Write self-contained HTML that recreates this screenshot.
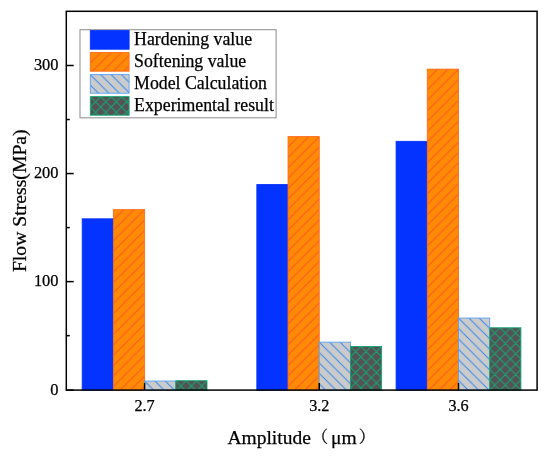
<!DOCTYPE html>
<html><head><meta charset="utf-8"><title>Flow Stress vs Amplitude</title>
<style>
html,body{margin:0;padding:0;background:#fff;}
svg{display:block;}
text{font-family:"Liberation Serif","Noto Serif CJK SC",serif;fill:#000;stroke:#000;stroke-width:0.25px;}
</style></head><body>
<svg width="550" height="456" viewBox="0 0 550 456">
<defs>
<pattern id="po" patternUnits="userSpaceOnUse" width="10.4" height="10.4" x="0" y="0">
<rect width="10.4" height="10.4" fill="#ff8a06"/>
<path d="M-1,11.4 L11.4,-1 M-1,1 L1,-1 M9.4,11.4 L11.4,9.4" stroke="#ff5520" stroke-width="1" fill="none"/>
</pattern>
<pattern id="pg" patternUnits="userSpaceOnUse" width="10.4" height="10.4" x="0" y="0">
<rect width="10.4" height="10.4" fill="#cbcbcb"/>
<path d="M-1,-1 L11.4,11.4 M9.4,-1 L11.4,1 M-1,9.4 L1,11.4" stroke="#3488ee" stroke-width="1" fill="none"/>
</pattern>
<pattern id="pd" patternUnits="userSpaceOnUse" width="10.4" height="10.4" x="0" y="0">
<rect width="10.4" height="10.4" fill="#545254"/>
<path d="M-1,-1 L11.4,11.4 M9.4,-1 L11.4,1 M-1,9.4 L1,11.4 M-1,11.4 L11.4,-1 M-1,1 L1,-1 M9.4,11.4 L11.4,9.4" stroke="#14a572" stroke-width="1.05" fill="none"/>
</pattern>
</defs>
<rect width="550" height="456" fill="#fff"/>

<g transform="translate(82.20,218.84)"><rect x="0" y="0" width="31.20" height="171.26" fill="#0433ff" stroke="#0433ff" stroke-width="0.9"/></g>
<g transform="translate(113.40,209.66)"><rect x="0" y="0" width="31.20" height="180.44" fill="url(#po)" stroke="#ff6a1a" stroke-width="0.9"/></g>
<g transform="translate(144.60,381.05)"><rect x="0" y="0" width="31.20" height="9.05" fill="url(#pg)" stroke="#5aa0f0" stroke-width="0.9"/></g>
<g transform="translate(175.80,380.73)"><rect x="0" y="0" width="31.20" height="9.37" fill="url(#pd)" stroke="#14a572" stroke-width="0.9"/></g>
<g transform="translate(256.85,184.58)"><rect x="0" y="0" width="31.20" height="205.52" fill="#0433ff" stroke="#0433ff" stroke-width="0.9"/></g>
<g transform="translate(288.05,136.60)"><rect x="0" y="0" width="31.20" height="253.50" fill="url(#po)" stroke="#ff6a1a" stroke-width="0.9"/></g>
<g transform="translate(319.25,342.15)"><rect x="0" y="0" width="31.20" height="47.95" fill="url(#pg)" stroke="#5aa0f0" stroke-width="0.9"/></g>
<g transform="translate(350.45,346.47)"><rect x="0" y="0" width="31.20" height="43.63" fill="url(#pd)" stroke="#14a572" stroke-width="0.9"/></g>
<g transform="translate(396.10,141.36)"><rect x="0" y="0" width="31.20" height="248.74" fill="#0433ff" stroke="#0433ff" stroke-width="0.9"/></g>
<g transform="translate(427.30,69.16)"><rect x="0" y="0" width="31.20" height="320.94" fill="url(#po)" stroke="#ff6a1a" stroke-width="0.9"/></g>
<g transform="translate(458.50,318.05)"><rect x="0" y="0" width="31.20" height="72.05" fill="url(#pg)" stroke="#5aa0f0" stroke-width="0.9"/></g>
<g transform="translate(489.70,327.78)"><rect x="0" y="0" width="31.20" height="62.32" fill="url(#pd)" stroke="#14a572" stroke-width="0.9"/></g>
<rect x="66.3" y="11.3" width="470.80" height="378.80" fill="none" stroke="#000" stroke-width="1.5"/>
<line x1="66.3" y1="390.10" x2="73.7" y2="390.10" stroke="#000" stroke-width="1.5"/>
<text x="58.5" y="394.50" font-size="16.4" text-anchor="end">0</text>
<line x1="66.3" y1="281.63" x2="73.7" y2="281.63" stroke="#000" stroke-width="1.5"/>
<text x="58.5" y="286.43" font-size="16.4" text-anchor="end">100</text>
<line x1="66.3" y1="173.56" x2="73.7" y2="173.56" stroke="#000" stroke-width="1.5"/>
<text x="58.5" y="178.36" font-size="16.4" text-anchor="end">200</text>
<line x1="66.3" y1="65.49" x2="73.7" y2="65.49" stroke="#000" stroke-width="1.5"/>
<text x="58.5" y="70.29" font-size="16.4" text-anchor="end">300</text>
<line x1="66.3" y1="335.66" x2="69.8" y2="335.66" stroke="#000" stroke-width="1.5"/>
<line x1="66.3" y1="227.59" x2="69.8" y2="227.59" stroke="#000" stroke-width="1.5"/>
<line x1="66.3" y1="119.52" x2="69.8" y2="119.52" stroke="#000" stroke-width="1.5"/>
<line x1="144.60" y1="390.1" x2="144.60" y2="383.1" stroke="#000" stroke-width="1.5"/>
<text x="144.60" y="410.7" font-size="16.2" text-anchor="middle">2.7</text>
<line x1="319.25" y1="390.1" x2="319.25" y2="383.1" stroke="#000" stroke-width="1.5"/>
<text x="319.25" y="410.7" font-size="16.2" text-anchor="middle">3.2</text>
<line x1="458.50" y1="390.1" x2="458.50" y2="383.1" stroke="#000" stroke-width="1.5"/>
<text x="458.50" y="410.7" font-size="16.2" text-anchor="middle">3.6</text>
<text x="227.4" y="444" font-size="19.5">Amplitude<tspan x="311.4" y="443.1" font-size="16.6" font-family="Noto Serif CJK SC">（</tspan><tspan x="331" y="444">μm</tspan><tspan x="358.8" y="443.1" font-size="16.6" font-family="Noto Serif CJK SC">）</tspan></text>
<text transform="translate(26.4,200.7) rotate(-90)" font-size="19.7" text-anchor="middle">Flow Stress(MPa)</text>
<rect x="80" y="29.7" width="196.1" height="88.1" fill="#fff" stroke="#959595" stroke-width="1.1"/>
<g transform="translate(90.3,30.60)"><rect x="0" y="0" width="38.8" height="18.6" fill="#0433ff" stroke="#0433ff" stroke-width="0.9"/></g>
<text x="134.1" y="45.00" font-size="17.8">Hardening value</text>
<g transform="translate(90.3,52.60)"><rect x="0" y="0" width="38.8" height="18.6" fill="url(#po)" stroke="#ff6a1a" stroke-width="0.9"/></g>
<text x="134.1" y="67.10" font-size="17.8">Softening value</text>
<g transform="translate(90.3,74.60)"><rect x="0" y="0" width="38.8" height="18.6" fill="url(#pg)" stroke="#5aa0f0" stroke-width="0.9"/></g>
<text x="134.1" y="89.20" font-size="17.8">Model Calculation</text>
<g transform="translate(90.3,96.60)"><rect x="0" y="0" width="38.8" height="18.6" fill="url(#pd)" stroke="#14a572" stroke-width="0.9"/></g>
<text x="134.1" y="111.30" font-size="17.8">Experimental result</text>
</svg></body></html>
